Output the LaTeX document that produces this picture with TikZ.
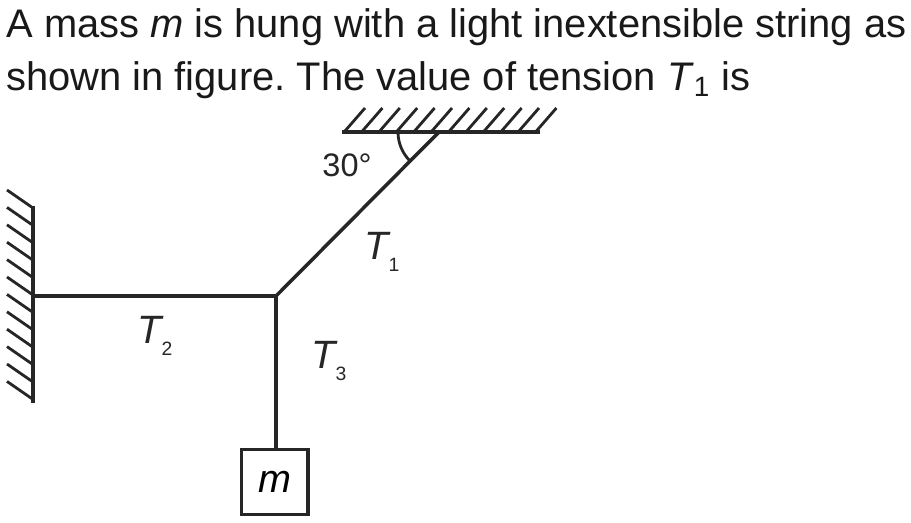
\documentclass[tikz,border=0pt]{standalone}
\usepackage{fontspec}
\setmainfont{Liberation Sans}
\usetikzlibrary{positioning}
\frenchspacing
\newcommand\tlabel[1]{\textit{T}\kern-0.06em\raisebox{-0.3em}{\fontsize{11}{13}\selectfont #1}}
\tikzstyle{string} = [line width=2pt,black!85]
\tikzstyle{support} = [line width=2pt,black!85]
\tikzstyle{hatch} = [line width=1.6pt,black!85]
\tikzstyle{title} = [anchor=base west, inner sep=0pt, font=\fontsize{22.7}{26}\selectfont, text=black!90]
\tikzstyle{label} = [inner sep=0pt, font=\fontsize{22.5}{26}\selectfont, text=black!85]
\tikzstyle{massbox} = [rectangle, draw=black!85, line width=2pt, minimum width=1.33cm, minimum height=1.30cm, inner sep=0pt]
\begin{document}
\begin{tikzpicture}[x=0.02cm,y=-0.02cm]
\useasboundingbox (0,0) rectangle (911,522);
%----------------------------------------------------------------------------
% Question text
\node (line1) [title] at (6,37) {A mass \textit{m} is hung with a light inextensible string as};
\node (line2) [title] at (6,90) {shown in figure. The value of tension \textit{T}\textsubscript{1} is};

%----------------------------------------------------------------------------
% Placement of points and mass
\coordinate (ceilL) at (342,132);
\coordinate (ceilR) at (540,132);
\coordinate (ceilA) at (439,132);
\coordinate (wallT) at (33,206);
\coordinate (wallB) at (33,403);
\coordinate (wallA) at (33,296);
\coordinate (knot) at (276,296);
\node (mass) [massbox] at (274.5,482) {\fontsize{22.5}{26}\selectfont\textit{m}};

%----------------------------------------------------------------------------
% Supports
\draw [support] (ceilL) -- (ceilR);
\draw [support] (wallT) -- (wallB);
\foreach \i in {0,...,11} {
	\draw [hatch] (345+17.4*\i,131) -- (365+17.4*\i,108);
	\draw [hatch] (33,208+17.4*\i) -- (7,190+17.4*\i);
}

%----------------------------------------------------------------------------
% Strings
\draw [string] (ceilA) -- (knot);
\draw [string] (wallA) -- (knot);
\draw [string] (knot) -- (knot |- mass.north);
\draw [hatch] (398,132) arc (180:135:41);

%----------------------------------------------------------------------------
% Labels
\node (angle) [label] at (347,165) {\fontsize{18.5}{22}\selectfont 30°};
\node (labelT1) [label] at (382,252) {\tlabel{1}};
\node (labelT2) [label] at (155,336) {\tlabel{2}};
\node (labelT3) [label] at (329,361) {\tlabel{3}};
\end{tikzpicture}
\end{document}
